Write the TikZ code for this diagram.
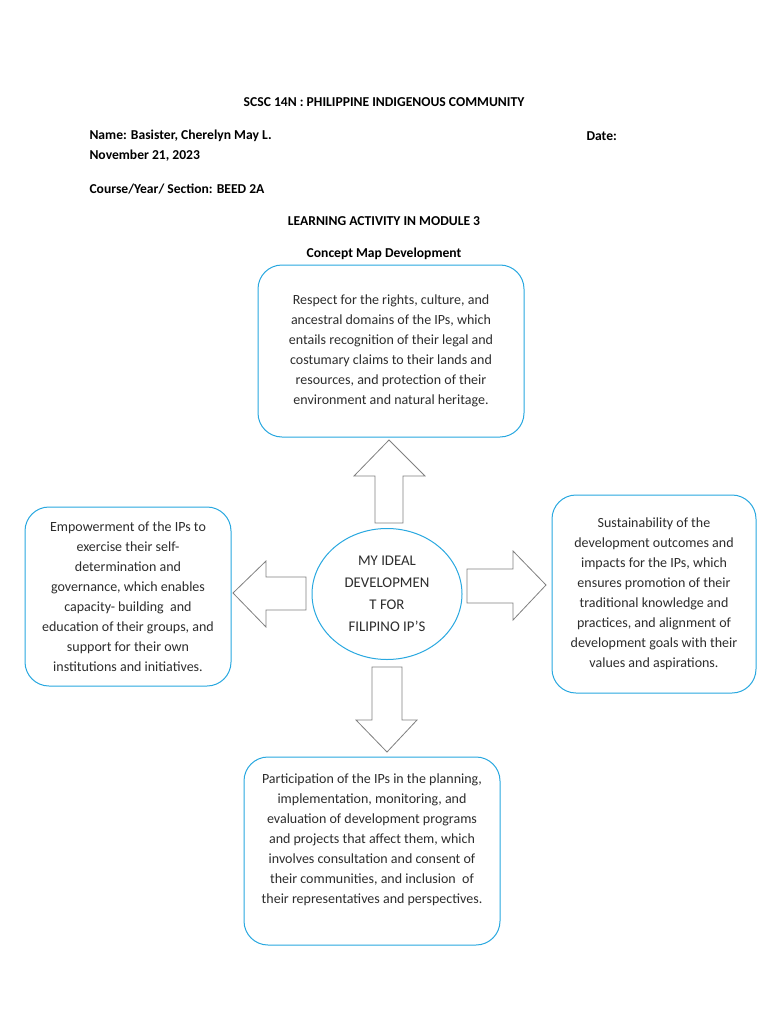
\documentclass[tikz,border=0pt]{standalone}
\usepackage{fontspec}
\setmainfont{Carlito}
\usepackage{tikz}
\usetikzlibrary{shapes.geometric}
\definecolor{mapblue}{RGB}{41,168,224}
\definecolor{maptext}{RGB}{45,45,45}
\definecolor{arrowgray}{RGB}{128,128,128}
\tikzset{conceptbox/.style={draw=mapblue, line width=1pt, rounded corners=24pt, align=center, text=maptext, font=\fontsize{14}{20}\selectfont},
%the grey outline arrows around the centre
blockarrow/.style={draw=arrowgray, line width=0.8pt, fill=white, line join=miter},
headline/.style={font=\bfseries\fontsize{13.6}{20}\selectfont}}

\begin{document}
\begin{tikzpicture}[x=1pt,y=-1pt]
\useasboundingbox[fill=white] (0,0) rectangle (768,1024);
% header
\node[headline] (title) at (384,102) {SCSC 14N : PHILIPPINE INDIGENOUS COMMUNITY};
\node[headline,anchor=west] (name) at (86,136) {Name: Basister, Cherelyn May L.};
\node[headline,anchor=west] (date) at (583,136) {Date:};
\node[headline,anchor=west] (day) at (86,156) {November 21, 2023};
\node[headline,anchor=west] (course) at (86,189) {Course/Year/ Section: BEED 2A};
\node[headline] (activity) at (384,221) {LEARNING ACTIVITY IN MODULE 3};
\node[headline] (maptitle) at (384,254) {Concept Map Development};

% centre
\node[ellipse, draw=mapblue, line width=1pt, minimum width=150pt, minimum height=131pt, align=center, text=maptext, font=\fontsize{14.8}{22}\selectfont] (ideal) at (387,594)
  {MY IDEAL\\ DEVELOPMEN\\ T FOR\\ FILIPINO IP'S};

% boxes
\node[conceptbox, minimum width=266pt, minimum height=172pt] (respect) at (391,351)
  {Respect for the rights, culture, and\\ ancestral domains of the IPs, which\\ entails recognition of their legal and\\ costumary claims to their lands and\\ resources, and protection of their\\ environment and natural heritage.};
\node[conceptbox, minimum width=206pt, minimum height=179pt] (empower) at (128,596.5)
  {Empowerment of the IPs to\\ exercise their self-\\ determination and\\ governance, which enables\\ capacity- building\ \ and\\ education of their groups, and\\ support for their own\\ institutions and initiatives.};
\node[conceptbox, minimum width=204pt, minimum height=198pt] (sustain) at (654,594)
  {Sustainability of the\\ development outcomes and\\ impacts for the IPs, which\\ ensures promotion of their\\ traditional knowledge and\\ practices, and alignment of\\ development goals with their\\ values and aspirations.};
\node[conceptbox, minimum width=256pt, minimum height=188pt] (particip) at (372,851) {};
\node[align=center, text=maptext, font=\fontsize{14}{20}\selectfont] (partext) at ([yshift=11pt]particip.center)
  {Participation of the IPs in the planning,\\ implementation, monitoring, and\\ evaluation of development programs\\ and projects that affect them, which\\ involves consultation and consent of\\ their communities, and inclusion\ \ of\\ their representatives and perspectives.};

% arrows
\draw[blockarrow] (375,523) -- (375,476) -- (354,476) -- (389,440) -- (425,476) -- (403,476) -- (403,523) -- cycle;
\draw[blockarrow] (306,577) -- (266,577) -- (266,561) -- (233,593) -- (266,627) -- (266,610) -- (306,610) -- cycle;
\draw[blockarrow] (467,569) -- (513,569) -- (513,551) -- (546,585) -- (513,620) -- (513,603) -- (467,603) -- cycle;
\draw[blockarrow] (372,667) -- (372,720) -- (356,720) -- (387,752) -- (417,720) -- (402,720) -- (402,667) -- cycle;

\end{tikzpicture}
\end{document}
